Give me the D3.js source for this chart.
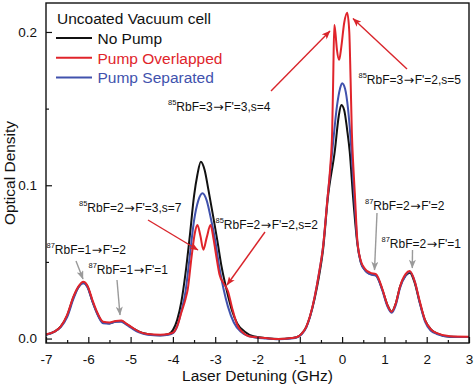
<!DOCTYPE html>
<html>
<head>
<meta charset="utf-8">
<script src="https://cdn.jsdelivr.net/npm/d3@7/dist/d3.min.js"></script>
<style>
  html, body { margin: 0; padding: 0; background: #fff; }
  svg { display: block; font-family: "Liberation Sans", Arial, sans-serif; }
</style>
</head>
<body>
<svg id="chart" width="474" height="386"></svg>
<script>
// ---------------- data ----------------
const seriesNames = ["No Pump", "Pump Overlapped", "Pump Separated"];
const legendTitle = "Uncoated Vacuum cell";

const noPump = [
  [-7.0,0.0025],[-6.8,0.0045],[-6.65,0.008],[-6.5,0.015],[-6.35,0.027],[-6.22,0.034],[-6.12,0.0365],
  [-6.02,0.034],[-5.9,0.024],[-5.78,0.016],[-5.65,0.0105],[-5.5,0.010],[-5.35,0.0112],[-5.22,0.0114],
  [-5.1,0.0095],[-4.95,0.0068],[-4.8,0.0045],[-4.6,0.003],[-4.3,0.0022],[-4.1,0.003],[-4.0,0.0055],
  [-3.9,0.012],[-3.8,0.024],[-3.7,0.043],[-3.6,0.067],[-3.5,0.093],[-3.42,0.107],[-3.34,0.1154],
  [-3.25,0.110],[-3.16,0.097],[-3.05,0.080],[-2.95,0.064],[-2.85,0.047],[-2.73,0.0317],[-2.6,0.018],
  [-2.48,0.0099],[-2.3,0.0045],[-2.1,0.0015],[-1.8,0.0003],[-1.5,-0.0003],[-1.2,0.0003],[-1.05,0.0012],
  [-0.95,0.0034],[-0.85,0.0075],[-0.76,0.0142],[-0.65,0.026],[-0.55,0.040],[-0.45,0.058],[-0.34,0.091],
  [-0.17,0.123],[-0.08,0.145],[-0.02,0.1524],[0.05,0.149],[0.12,0.136],[0.18,0.122],[0.26,0.092],
  [0.36,0.062],[0.44,0.050],[0.54,0.0447],[0.66,0.0422],[0.8,0.0412],[0.95,0.032],[1.07,0.022],
  [1.17,0.0175],[1.27,0.023],[1.37,0.034],[1.5,0.041],[1.6,0.043],[1.72,0.036],[1.83,0.024],
  [1.96,0.012],[2.1,0.006],[2.24,0.0034],[2.55,0.0012],[3.0,0.001]
];

const pumpSeparated = [
  [-7.0,0.0025],[-6.8,0.0045],[-6.65,0.0075],[-6.5,0.014],[-6.35,0.026],[-6.22,0.034],[-6.12,0.036],
  [-6.02,0.0335],[-5.9,0.024],[-5.78,0.0155],[-5.65,0.010],[-5.5,0.0097],[-5.35,0.011],[-5.22,0.011],
  [-5.1,0.009],[-4.95,0.0063],[-4.8,0.004],[-4.6,0.0025],[-4.3,0.002],[-4.1,0.0025],[-4.0,0.0035],
  [-3.9,0.008],[-3.8,0.018],[-3.7,0.031],[-3.6,0.054],[-3.5,0.077],[-3.4,0.090],[-3.3,0.0948],
  [-3.2,0.090],[-3.1,0.078],[-3.0,0.064],[-2.9,0.046],[-2.8,0.032],[-2.7,0.021],[-2.56,0.0105],
  [-2.4,0.0045],[-2.2,0.0015],[-1.8,0.0],[-1.5,-0.0005],[-1.2,0.0],[-1.05,0.001],[-0.95,0.003],
  [-0.85,0.007],[-0.76,0.014],[-0.65,0.027],[-0.55,0.042],[-0.45,0.060],[-0.34,0.093],[-0.23,0.123],
  [-0.12,0.152],[-0.05,0.163],[0.0,0.1666],[0.07,0.163],[0.14,0.150],[0.22,0.123],[0.28,0.096],
  [0.36,0.063],[0.44,0.050],[0.54,0.0445],[0.66,0.042],[0.8,0.041],[0.95,0.0315],[1.07,0.021],
  [1.17,0.0168],[1.27,0.022],[1.37,0.033],[1.5,0.041],[1.6,0.0435],[1.72,0.037],[1.83,0.024],
  [1.96,0.011],[2.1,0.005],[2.24,0.003],[2.55,0.0012],[3.0,0.001]
];

const pumpOverlapped = [
  [-7.0,0.0028],[-6.8,0.0045],[-6.65,0.008],[-6.5,0.0155],[-6.35,0.0275],[-6.22,0.0345],[-6.12,0.037],
  [-6.02,0.0345],[-5.9,0.025],[-5.78,0.0165],[-5.65,0.011],[-5.5,0.0105],[-5.35,0.0115],[-5.22,0.0117],
  [-5.1,0.0098],[-4.95,0.007],[-4.8,0.0045],[-4.6,0.003],[-4.3,0.0025],[-4.1,0.003],[-4.0,0.0038],
  [-3.9,0.008],[-3.8,0.017],[-3.7,0.026],[-3.65,0.032],[-3.56,0.053],[-3.48,0.069],[-3.42,0.074],
  [-3.35,0.067],[-3.28,0.058],[-3.2,0.066],[-3.11,0.074],[-3.04,0.065],[-2.97,0.053],[-2.9,0.042],
  [-2.8,0.036],[-2.7,0.031],[-2.6,0.020],[-2.48,0.009],[-2.35,0.004],[-2.2,0.0015],[-1.8,0.0003],
  [-1.5,-0.0003],[-1.2,0.0003],[-1.05,0.0012],[-0.95,0.0034],[-0.85,0.0075],[-0.76,0.0145],[-0.65,0.027],
  [-0.55,0.042],[-0.45,0.060],[-0.35,0.090],[-0.28,0.112],[-0.235,0.135],[-0.21,0.170],[-0.185,0.2046],
  [-0.16,0.200],[-0.12,0.188],[-0.07,0.1818],[-0.02,0.190],[0.05,0.206],[0.12,0.2125],[0.17,0.200],
  [0.2,0.170],[0.23,0.135],[0.27,0.110],[0.3,0.095],[0.36,0.064],[0.44,0.051],[0.54,0.0455],
  [0.66,0.043],[0.8,0.042],[0.95,0.0325],[1.07,0.022],[1.17,0.0175],[1.27,0.023],[1.37,0.034],
  [1.5,0.042],[1.6,0.044],[1.72,0.037],[1.83,0.025],[1.96,0.012],[2.1,0.006],[2.24,0.0035],
  [2.55,0.0015],[3.0,0.0012]
];

const xTicks = [-7,-6,-5,-4,-3,-2,-1,0,1,2,3];
const xMinorTicks = [-6.5,-5.5,-4.5,-3.5,-2.5,-1.5,-0.5,0.5,1.5,2.5];
const yTicks = [0.0, 0.1, 0.2];
const yMinorTicks = [0.05, 0.15];

const xLabel = "Laser Detuning (GHz)";
const yLabel = "Optical Density";

// annotation texts: [isotope, transition]
const annotationTexts = [
  ["85", "RbF=3\u2192F'=3,s=4"],
  ["85", "RbF=3\u2192F'=2,s=5"],
  ["85", "RbF=2\u2192F'=3,s=7"],
  ["85", "RbF=2\u2192F'=2,s=2"],
  ["87", "RbF=1\u2192F'=2"],
  ["87", "RbF=1\u2192F'=1"],
  ["87", "RbF=2\u2192F'=2"],
  ["87", "RbF=2\u2192F'=1"]
];

// ---------------- layout ----------------
const W = 474, H = 386;
const plot = { left: 46, right: 469, top: 3, bottom: 343 };
const colors = { "No Pump": "#111111", "Pump Overlapped": "#e0242b", "Pump Separated": "#4152ad" };
const gray = "#9a9a9a";
const font = "'Liberation Sans', Arial, sans-serif";

const svg = d3.select("#chart");

const x = d3.scaleLinear().domain([-7, 3]).range([plot.left, plot.right]);
const y = d3.scaleLinear().domain([-0.0029, 0.2189]).range([plot.bottom, plot.top]);

svg.append("defs").append("clipPath").attr("id", "clip")
  .append("rect").attr("x", plot.left).attr("y", plot.top)
  .attr("width", plot.right - plot.left).attr("height", plot.bottom - plot.top);

const defs = svg.select("defs");
function makeMarker(id, color) {
  defs.append("marker").attr("id", id)
    .attr("viewBox", "0 0 10 8").attr("refX", 9.5).attr("refY", 4)
    .attr("markerWidth", 10).attr("markerHeight", 7)
    .attr("markerUnits", "userSpaceOnUse").attr("orient", "auto")
    .append("path").attr("d", "M0,0 L10,4 L0,8 L2.5,4 Z").attr("fill", color);
}
makeMarker("arrRed", "#d9252b");
makeMarker("arrGray", gray);

// curves
const line = d3.line().x(d => x(d[0])).y(d => y(d[1])).curve(d3.curveMonotoneX);
const series = [
  { name: "No Pump", data: noPump },
  { name: "Pump Separated", data: pumpSeparated },
  { name: "Pump Overlapped", data: pumpOverlapped }
];
svg.append("g").attr("clip-path", "url(#clip)")
  .selectAll("path").data(series).join("path")
  .attr("d", d => line(d.data))
  .attr("fill", "none")
  .attr("stroke", d => colors[d.name])
  .attr("stroke-width", 2)
  .attr("stroke-linejoin", "round");

// axes (inward ticks)
const axisG = svg.append("g");
const xAxis = d3.axisBottom(x).tickValues(xTicks).tickSize(-6).tickSizeOuter(0)
  .tickPadding(11).tickFormat(d => String(d));
axisG.append("g").attr("transform", `translate(0,${plot.bottom})`).call(xAxis)
  .call(g => g.select(".domain").remove())
  .call(g => g.selectAll("text").attr("font-size", 13.5).attr("font-family", font).attr("fill", "#111"));
axisG.append("g").attr("transform", `translate(0,${plot.bottom})`)
  .call(d3.axisBottom(x).tickValues(xMinorTicks).tickSize(-3).tickSizeOuter(0).tickFormat(""))
  .call(g => g.select(".domain").remove());

const yAxis = d3.axisLeft(y).tickValues(yTicks).tickSize(-6).tickSizeOuter(0)
  .tickPadding(9).tickFormat(d3.format(".1f"));
axisG.append("g").attr("transform", `translate(${plot.left},0)`).call(yAxis)
  .call(g => g.select(".domain").remove())
  .call(g => g.selectAll("text").attr("font-size", 13.5).attr("font-family", font).attr("fill", "#111"));
axisG.append("g").attr("transform", `translate(${plot.left},0)`)
  .call(d3.axisLeft(y).tickValues(yMinorTicks).tickSize(-3).tickSizeOuter(0).tickFormat(""))
  .call(g => g.select(".domain").remove());
axisG.selectAll("line").attr("stroke", "#111").attr("stroke-width", 1.2);

// frame
svg.append("rect").attr("x", plot.left).attr("y", plot.top)
  .attr("width", plot.right - plot.left).attr("height", plot.bottom - plot.top)
  .attr("fill", "none").attr("stroke", "#111").attr("stroke-width", 1.4);

// axis titles
svg.append("text").attr("x", (plot.left + plot.right) / 2).attr("y", 380.5)
  .attr("text-anchor", "middle").attr("font-size", 15.5).attr("font-family", font)
  .attr("fill", "#111").text(xLabel);
svg.append("text").attr("transform", `translate(15,173) rotate(-90)`)
  .attr("text-anchor", "middle").attr("font-size", 15.5).attr("font-family", font)
  .attr("fill", "#111").text(yLabel);

// legend
const lg = svg.append("g");
lg.append("text").attr("x", 57).attr("y", 24).attr("font-size", 15.5).attr("font-family", font)
  .attr("fill", "#111").text(legendTitle);
seriesNames.forEach((name, i) => {
  const by = 44 + i * 19.7;
  lg.append("line").attr("x1", 56).attr("x2", 92).attr("y1", by - 6).attr("y2", by - 6)
    .attr("stroke", colors[name]).attr("stroke-width", 2);
  lg.append("text").attr("x", 97.5).attr("y", by).attr("font-size", 15.5).attr("font-family", font)
    .attr("fill", name === "No Pump" ? "#111" : colors[name]).text(name);
});

// annotations (label positions in pixels; arrows from -> to)
const annLayout = [
  { x: 168, y: 111, arrow: [[271, 91], [330, 31]], c: "red" },
  { x: 358.5, y: 84, arrow: [[407, 69], [353, 18.5]], c: "red" },
  { x: 79, y: 212, arrow: [[148, 220], [198, 250]], c: "red" },
  { x: 215.5, y: 228.5, arrow: [[265, 232], [227, 285]], c: "red" },
  { x: 46.5, y: 253.5, arrow: [[76, 261], [83, 279]], c: "gray" },
  { x: 88.5, y: 273.5, arrow: [[117, 280], [120, 315]], c: "gray" },
  { x: 365, y: 210, arrow: [[377, 213], [374.5, 270]], c: "gray" },
  { x: 381.5, y: 247.5, arrow: [[412.5, 250], [412.3, 268]], c: "gray" }
];
const ag = svg.append("g");
annotationTexts.forEach((t, i) => {
  const L = annLayout[i];
  const parts = t[1].split("\u2192");
  const tx = ag.append("text").attr("x", L.x).attr("y", L.y)
    .attr("font-size", 12).attr("font-family", font).attr("fill", "#111");
  tx.append("tspan").attr("font-size", 7.5).attr("dy", -6).text(t[0]);
  tx.append("tspan").attr("dy", 6).text(parts[0]);
  tx.append("tspan").attr("font-family", "'DejaVu Sans'").attr("font-size", 12.5)
    .attr("dx", 0.5).attr("dy", 0).text("\u2192");
  tx.append("tspan").attr("dx", 0.5).text(parts[1]);
  ag.append("line")
    .attr("x1", L.arrow[0][0]).attr("y1", L.arrow[0][1])
    .attr("x2", L.arrow[1][0]).attr("y2", L.arrow[1][1])
    .attr("stroke", L.c === "red" ? "#d9252b" : gray)
    .attr("stroke-width", 1.4)
    .attr("marker-end", L.c === "red" ? "url(#arrRed)" : "url(#arrGray)");
});
</script>
</body>
</html>
